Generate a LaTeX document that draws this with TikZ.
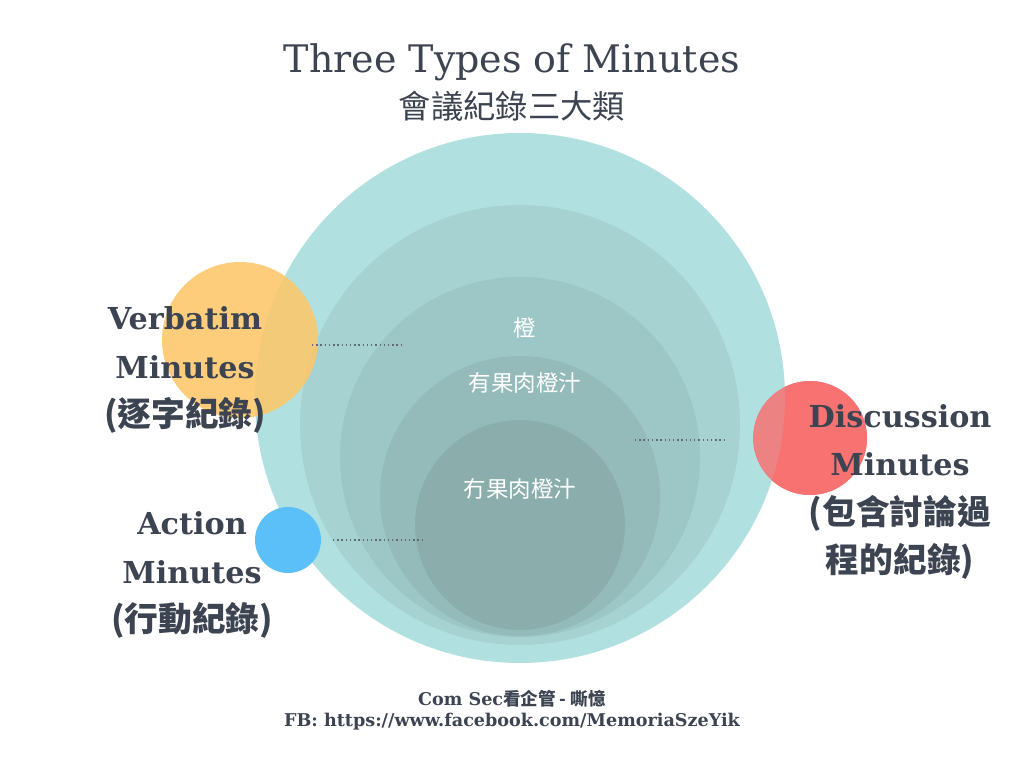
\documentclass[tikz,border=0pt]{standalone}
\usepackage{fontspec}
\setmainfont{DejaVu Serif}
\newfontfamily\cjk{Noto Sans CJK TC}
\usetikzlibrary{positioning}
\definecolor{inkgrey}{HTML}{3D4451}
\definecolor{tealA}{HTML}{B0E0DF}
\definecolor{tealB}{HTML}{A6D2D2}
\definecolor{tealC}{HTML}{9DC6C6}
\definecolor{tealD}{HTML}{94BBBA}
\definecolor{tealE}{HTML}{8BAEAD}
\definecolor{orangeC}{HTML}{FDC76A}
\definecolor{blueC}{HTML}{5BC0F8}
\definecolor{redC}{HTML}{F87272}
\tikzset{
  label/.style={text=inkgrey, align=center, font=\fontsize{21.5}{34.5}\selectfont\bfseries},
  cjklabel/.style={font=\cjk\fontsize{24}{34.5}\selectfont\bfseries},
  inner/.style={text=white, font=\cjk\fontsize{16}{20}\selectfont},
  dots/.style={draw=inkgrey!80, dotted, line width=1pt}
}
\newcommand{\cjkb}[1]{{\cjk\fontsize{24}{34.5}\selectfont\bfseries #1}}
\begin{document}
\begin{tikzpicture}[x=0.025cm, y=-0.025cm]
  \useasboundingbox (0,0) rectangle (1024,768);
  \fill[white] (0,0) rectangle (1024,768);
  % circles
  \fill[redC] (810,438) circle (57);
  \fill[tealA] (520,398) circle (265);
  \fill[tealB] (520,425) circle (220);
  \fill[tealC] (520,457) circle (180);
  \fill[tealD] (520,496) circle (140);
  \fill[tealE] (520,525) circle (105);
  \fill[redC, opacity=0.85] (810,438) circle (57);
  \fill[orangeC, opacity=0.88] (240,340) circle (78);
  \fill[blueC] (288,540) circle (33);
  % titles
  \node[text=inkgrey, font=\fontsize{27}{34}\selectfont] (title) at (512,62) {Three Types of Minutes};
  \node[text=inkgrey, font=\cjk\fontsize{23}{28}\selectfont] (subtitle) at (512,106) {會議紀錄三大類};
  % labels
  \node[label] (verbatim) at (185,370) {Verbatim\\Minutes\\\cjkb{(逐字紀錄)}};
  \node[label] (action) at (192,575) {Action\\Minutes\\\cjkb{(行動紀錄)}};
  \node[label] (discussion) at (900,492) {Discussion\\Minutes\\\cjkb{(包含討論過}\\\cjkb{程的紀錄)}};
  % inner texts
  \node[inner] (orange) at (525,328) {橙};
  \node[inner] (pulp) at (525,383) {有果肉橙汁};
  \node[inner] (nopulp) at (520,489) {冇果肉橙汁};
  % dotted leaders
  \coordinate (v1) at (312,345); \coordinate (v2) at (403,345);
  \coordinate (d1) at (635,440); \coordinate (d2) at (727,440);
  \coordinate (a1) at (333,540); \coordinate (a2) at (425,540);
  \draw[dots] (v1) -- (v2);
  \draw[dots] (d1) -- (d2);
  \draw[dots] (a1) -- (a2);
  % footer
  \node[text=inkgrey, font=\fontsize{12.5}{14}\selectfont\bfseries] (credit) at (512,699) {Com Sec{\cjk 看企管 - 嘶憶}};
  \node[text=inkgrey, font=\fontsize{12.5}{14}\selectfont\bfseries, below=-3pt of credit] (fb) {FB: https://www.facebook.com/MemoriaSzeYik};
\end{tikzpicture}
\end{document}
